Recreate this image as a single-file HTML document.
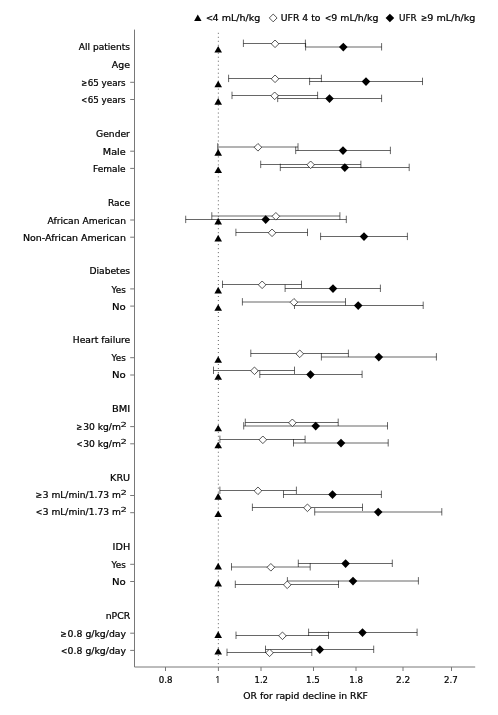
<!DOCTYPE html>
<html lang="en"><head><meta charset="utf-8"><title>OR for rapid decline in RKF</title>
<style>html,body{margin:0;padding:0;background:#fff}svg{display:block}text{font-family:"DejaVu Sans", "Liberation Sans", sans-serif;font-size:9.0px;fill:#000;stroke:#000;stroke-width:0.23px}.sup{font-size:7px;stroke-width:0.1px}.one{font-family:NanumGothic,"Liberation Sans",sans-serif;font-size:9.6px;stroke-width:0.15px}.eb{stroke:#000;stroke-width:0.6;fill:none}.ax{stroke:#787878;stroke-width:1;fill:none}.od{fill:#fff;stroke:#1c1c1c;stroke-width:0.75}.fd{fill:#000}.tr{fill:#000}</style></head><body>
<svg width="498" height="715" viewBox="0 0 498 715">
<rect width="498" height="715" fill="#fff"/>
<path class="ax" d="M134.5 29.6V667.0H475.2"/>
<path class="ax" d="M165.5 667.0v4"/>
<text y="682.7"><tspan id="x0_8" x="158.69" textLength="13.74" lengthAdjust="spacingAndGlyphs">0.8</tspan></text>
<path class="ax" d="M218.4 667.0v4"/>
<text class="one" x="217.7" y="682.8" text-anchor="middle">1</text>
<path class="ax" d="M261.0 667.0v4"/>
<text y="682.7"><tspan id="x1_2" x="254.53" textLength="13.48" lengthAdjust="spacingAndGlyphs">1.2</tspan></text>
<path class="ax" d="M313.5 667.0v4"/>
<text y="682.7"><tspan id="x1_5" x="306.04" textLength="13.77" lengthAdjust="spacingAndGlyphs">1.5</tspan></text>
<path class="ax" d="M356.0 667.0v4"/>
<text y="682.7"><tspan id="x1_8" x="349.37" textLength="13.77" lengthAdjust="spacingAndGlyphs">1.8</tspan></text>
<path class="ax" d="M403.0 667.0v4"/>
<text y="682.7"><tspan id="x2_2" x="396.02" textLength="14.30" lengthAdjust="spacingAndGlyphs">2.2</tspan></text>
<path class="ax" d="M451.5 667.0v4"/>
<text y="682.7"><tspan id="x2_7" x="444.12" textLength="13.79" lengthAdjust="spacingAndGlyphs">2.7</tspan></text>
<text y="699.3"><tspan id="ttl" x="243.30" textLength="124.63" lengthAdjust="spacingAndGlyphs">OR for rapid decline in RKF</tspan></text>
<path d="M218.35 32.85V667.0" stroke="#303030" stroke-width="0.95" stroke-dasharray="0.8 3.19" fill="none"/>
<text y="49.7"><tspan id="L1" x="78.80" textLength="51.13" lengthAdjust="spacingAndGlyphs">All patients</tspan></text>
<text y="67.9"><tspan id="L2" x="111.80" textLength="18.12" lengthAdjust="spacingAndGlyphs">Age</tspan></text>
<path class="ax" d="M130.2 82.3H134.5"/>
<text y="86.0"><tspan id="S3" x="81.35" textLength="5.98" lengthAdjust="spacingAndGlyphs">≥</tspan><tspan id="L3" x="87.66" textLength="38.00" lengthAdjust="spacingAndGlyphs">65 years</tspan></text>
<path class="ax" d="M130.2 99.5H134.5"/>
<text y="103.0"><tspan id="S4" x="81.27" textLength="5.90" lengthAdjust="spacingAndGlyphs">&lt;</tspan><tspan id="L4" x="87.66" textLength="38.00" lengthAdjust="spacingAndGlyphs">65 years</tspan></text>
<text y="136.9"><tspan id="L6" x="96.07" textLength="33.81" lengthAdjust="spacingAndGlyphs">Gender</tspan></text>
<path class="ax" d="M130.2 151.2H134.5"/>
<text y="155.0"><tspan id="L7" x="102.85" textLength="22.86" lengthAdjust="spacingAndGlyphs">Male</tspan></text>
<path class="ax" d="M130.2 168.4H134.5"/>
<text y="172.0"><tspan id="L8" x="93.04" textLength="32.57" lengthAdjust="spacingAndGlyphs">Female</tspan></text>
<text y="206.0"><tspan id="L10" x="108.00" textLength="22.15" lengthAdjust="spacingAndGlyphs">Race</tspan></text>
<path class="ax" d="M130.2 220.0H134.5"/>
<text y="224.0"><tspan id="L11" x="47.61" textLength="78.41" lengthAdjust="spacingAndGlyphs">African American</tspan></text>
<path class="ax" d="M130.2 237.2H134.5"/>
<text y="241.0"><tspan id="L12" x="22.99" textLength="102.92" lengthAdjust="spacingAndGlyphs">Non-African American</tspan></text>
<text y="273.8"><tspan id="L14" x="89.43" textLength="40.70" lengthAdjust="spacingAndGlyphs">Diabetes</tspan></text>
<path class="ax" d="M130.2 288.9H134.5"/>
<text y="293.0"><tspan id="L15" x="111.59" textLength="14.22" lengthAdjust="spacingAndGlyphs">Yes</tspan></text>
<path class="ax" d="M130.2 306.1H134.5"/>
<text y="310.0"><tspan id="L16" x="111.97" textLength="13.81" lengthAdjust="spacingAndGlyphs">No</tspan></text>
<text y="342.7"><tspan id="L18" x="72.80" textLength="57.45" lengthAdjust="spacingAndGlyphs">Heart failure</tspan></text>
<path class="ax" d="M130.2 357.7H134.5"/>
<text y="361.0"><tspan id="L19" x="111.59" textLength="14.22" lengthAdjust="spacingAndGlyphs">Yes</tspan></text>
<path class="ax" d="M130.2 375.0H134.5"/>
<text y="378.0"><tspan id="L20" x="111.97" textLength="13.81" lengthAdjust="spacingAndGlyphs">No</tspan></text>
<text y="411.7"><tspan id="L22" x="112.09" textLength="18.19" lengthAdjust="spacingAndGlyphs">BMI</tspan></text>
<path class="ax" d="M130.2 426.6H134.5"/>
<text y="430.0"><tspan id="S23" x="76.37" textLength="5.97" lengthAdjust="spacingAndGlyphs">≥</tspan><tspan id="L23" x="83.15" textLength="37.75" lengthAdjust="spacingAndGlyphs">30 kg/m</tspan><tspan id="U23" x="120.60" textLength="6.47" lengthAdjust="spacingAndGlyphs" class="sup" dy="-3.4">2</tspan></text>
<path class="ax" d="M130.2 443.8H134.5"/>
<text y="447.0"><tspan id="S24" x="76.44" textLength="6.11" lengthAdjust="spacingAndGlyphs">&lt;</tspan><tspan id="L24" x="83.15" textLength="37.75" lengthAdjust="spacingAndGlyphs">30 kg/m</tspan><tspan id="U24" x="120.60" textLength="6.47" lengthAdjust="spacingAndGlyphs" class="sup" dy="-3.4">2</tspan></text>
<text y="480.7"><tspan id="L26" x="110.09" textLength="20.02" lengthAdjust="spacingAndGlyphs">KRU</tspan></text>
<path class="ax" d="M130.2 495.5H134.5"/>
<text y="498.0"><tspan id="S27" x="35.41" textLength="6.69" lengthAdjust="spacingAndGlyphs">≥</tspan><tspan id="L27" x="42.73" textLength="78.05" lengthAdjust="spacingAndGlyphs">3 mL/min/1.73 m</tspan><tspan id="U27" x="120.60" textLength="6.47" lengthAdjust="spacingAndGlyphs" class="sup" dy="-3.4">2</tspan></text>
<path class="ax" d="M130.2 512.7H134.5"/>
<text y="515.0"><tspan id="S28" x="35.63" textLength="6.59" lengthAdjust="spacingAndGlyphs">&lt;</tspan><tspan id="L28" x="42.73" textLength="78.05" lengthAdjust="spacingAndGlyphs">3 mL/min/1.73 m</tspan><tspan id="U28" x="120.60" textLength="6.47" lengthAdjust="spacingAndGlyphs" class="sup" dy="-3.4">2</tspan></text>
<text y="549.6"><tspan id="L30" x="112.63" textLength="17.51" lengthAdjust="spacingAndGlyphs">IDH</tspan></text>
<path class="ax" d="M130.2 564.3H134.5"/>
<text y="568.0"><tspan id="L31" x="111.59" textLength="14.22" lengthAdjust="spacingAndGlyphs">Yes</tspan></text>
<path class="ax" d="M130.2 581.5H134.5"/>
<text y="585.0"><tspan id="L32" x="111.97" textLength="13.81" lengthAdjust="spacingAndGlyphs">No</tspan></text>
<text y="618.9"><tspan id="L34" x="105.67" textLength="24.48" lengthAdjust="spacingAndGlyphs">nPCR</tspan></text>
<path class="ax" d="M130.2 633.2H134.5"/>
<text y="637.0"><tspan id="S35" x="60.13" textLength="6.55" lengthAdjust="spacingAndGlyphs">≥</tspan><tspan id="L35" x="67.58" textLength="58.53" lengthAdjust="spacingAndGlyphs">0.8 g/kg/day</tspan></text>
<path class="ax" d="M130.2 650.4H134.5"/>
<text y="654.0"><tspan id="S36" x="61.01" textLength="6.32" lengthAdjust="spacingAndGlyphs">&lt;</tspan><tspan id="L36" x="67.58" textLength="58.53" lengthAdjust="spacingAndGlyphs">0.8 g/kg/day</tspan></text>
<path class="eb" d="M305.6 47.0H381.6M305.6 43.1v7.4M381.6 43.1v7.4"/>
<path class="eb" d="M309.6 81.5H422.5M309.6 77.7v7.4M422.5 77.7v7.4"/>
<path class="eb" d="M277.7 98.5H381.6M277.7 94.7v7.4M381.6 94.7v7.4"/>
<path class="eb" d="M295.7 150.5H390.4M295.7 146.7v7.4M390.4 146.7v7.4"/>
<path class="eb" d="M280.3 167.5H409.2M280.3 163.7v7.4M409.2 163.7v7.4"/>
<path class="eb" d="M185.7 219.5H346.3M185.7 215.7v7.4M346.3 215.7v7.4"/>
<path class="eb" d="M320.6 236.5H407.4M320.6 232.7v7.4M407.4 232.7v7.4"/>
<path class="eb" d="M285.1 288.5H380.4M285.1 284.6v7.4M380.4 284.6v7.4"/>
<path class="eb" d="M294.5 305.5H423.2M294.5 301.6v7.4M423.2 301.6v7.4"/>
<path class="eb" d="M321.4 357.0H436.4M321.4 353.1v7.4M436.4 353.1v7.4"/>
<path class="eb" d="M259.8 374.5H362.1M259.8 370.6v7.4M362.1 370.6v7.4"/>
<path class="eb" d="M243.7 426.0H387.5M243.7 422.1v7.4M387.5 422.1v7.4"/>
<path class="eb" d="M293.5 443.0H388.2M293.5 439.1v7.4M388.2 439.1v7.4"/>
<path class="eb" d="M283.5 494.5H381.4M283.5 490.6v7.4M381.4 490.6v7.4"/>
<path class="eb" d="M314.7 512.0H441.8M314.7 508.1v7.4M441.8 508.1v7.4"/>
<path class="eb" d="M298.3 563.5H392.3M298.3 559.6v7.4M392.3 559.6v7.4"/>
<path class="eb" d="M287.4 581.0H418.4M287.4 577.1v7.4M418.4 577.1v7.4"/>
<path class="eb" d="M308.6 632.5H417.1M308.6 628.6v7.4M417.1 628.6v7.4"/>
<path class="eb" d="M265.5 649.5H373.7M265.5 645.6v7.4M373.7 645.6v7.4"/>
<path class="eb" d="M243.4 43.5H305.4M243.4 39.6v7.4M305.4 39.6v7.4"/>
<path class="eb" d="M228.6 78.5H321.4M228.6 74.7v7.4M321.4 74.7v7.4"/>
<path class="eb" d="M232.0 95.5H317.6M232.0 91.7v7.4M317.6 91.7v7.4"/>
<path class="eb" d="M217.7 147.0H298.0M217.7 143.2v7.4M298.0 143.2v7.4"/>
<path class="eb" d="M260.7 164.5H360.9M260.7 160.7v7.4M360.9 160.7v7.4"/>
<path class="eb" d="M211.8 216.0H339.9M211.8 212.2v7.4M339.9 212.2v7.4"/>
<path class="eb" d="M235.9 232.5H307.5M235.9 228.7v7.4M307.5 228.7v7.4"/>
<path class="eb" d="M222.5 284.5H301.5M222.5 280.6v7.4M301.5 280.6v7.4"/>
<path class="eb" d="M242.4 302.0H345.5M242.4 298.1v7.4M345.5 298.1v7.4"/>
<path class="eb" d="M250.8 353.5H348.4M250.8 349.6v7.4M348.4 349.6v7.4"/>
<path class="eb" d="M213.5 370.5H294.5M213.5 366.6v7.4M294.5 366.6v7.4"/>
<path class="eb" d="M245.3 422.5H338.2M245.3 418.6v7.4M338.2 418.6v7.4"/>
<path class="eb" d="M219.9 439.5H305.1M219.9 435.6v7.4M305.1 435.6v7.4"/>
<path class="eb" d="M219.9 490.5H296.4M219.9 486.6v7.4M296.4 486.6v7.4"/>
<path class="eb" d="M252.4 507.5H362.5M252.4 503.6v7.4M362.5 503.6v7.4"/>
<path class="eb" d="M231.5 567.0H310.2M231.5 563.1v7.4M310.2 563.1v7.4"/>
<path class="eb" d="M235.3 584.5H338.5M235.3 580.6v7.4M338.5 580.6v7.4"/>
<path class="eb" d="M236.0 635.5H328.5M236.0 631.6v7.4M328.5 631.6v7.4"/>
<path class="eb" d="M227.0 652.5H311.8M227.0 648.6v7.4M311.8 648.6v7.4"/>
<path class="fd" d="M339.00 47.10L343.30 42.80L347.60 47.10L343.30 51.40Z"/>
<path class="fd" d="M361.70 81.60L366.00 77.30L370.30 81.60L366.00 85.90Z"/>
<path class="fd" d="M325.20 98.60L329.50 94.30L333.80 98.60L329.50 102.90Z"/>
<path class="fd" d="M338.70 150.60L343.00 146.30L347.30 150.60L343.00 154.90Z"/>
<path class="fd" d="M340.50 167.60L344.80 163.30L349.10 167.60L344.80 171.90Z"/>
<path class="fd" d="M261.40 219.60L265.70 215.30L270.00 219.60L265.70 223.90Z"/>
<path class="fd" d="M359.70 236.60L364.00 232.30L368.30 236.60L364.00 240.90Z"/>
<path class="fd" d="M328.70 288.60L333.00 284.30L337.30 288.60L333.00 292.90Z"/>
<path class="fd" d="M353.90 305.60L358.20 301.30L362.50 305.60L358.20 309.90Z"/>
<path class="fd" d="M374.50 357.10L378.80 352.80L383.10 357.10L378.80 361.40Z"/>
<path class="fd" d="M306.20 374.60L310.50 370.30L314.80 374.60L310.50 378.90Z"/>
<path class="fd" d="M311.40 426.10L315.70 421.80L320.00 426.10L315.70 430.40Z"/>
<path class="fd" d="M336.70 443.10L341.00 438.80L345.30 443.10L341.00 447.40Z"/>
<path class="fd" d="M328.20 494.60L332.50 490.30L336.80 494.60L332.50 498.90Z"/>
<path class="fd" d="M373.90 512.10L378.20 507.80L382.50 512.10L378.20 516.40Z"/>
<path class="fd" d="M341.30 563.60L345.60 559.30L349.90 563.60L345.60 567.90Z"/>
<path class="fd" d="M348.70 581.10L353.00 576.80L357.30 581.10L353.00 585.40Z"/>
<path class="fd" d="M358.20 632.60L362.50 628.30L366.80 632.60L362.50 636.90Z"/>
<path class="fd" d="M315.50 649.60L319.80 645.30L324.10 649.60L319.80 653.90Z"/>
<path class="od" d="M271.25 43.80L275.05 40.00L278.85 43.80L275.05 47.60Z"/>
<path class="od" d="M271.25 78.80L275.05 75.00L278.85 78.80L275.05 82.60Z"/>
<path class="od" d="M270.85 95.80L274.65 92.00L278.45 95.80L274.65 99.60Z"/>
<path class="od" d="M254.15 147.30L257.95 143.50L261.75 147.30L257.95 151.10Z"/>
<path class="od" d="M306.85 164.80L310.65 161.00L314.45 164.80L310.65 168.60Z"/>
<path class="od" d="M272.05 216.30L275.85 212.50L279.65 216.30L275.85 220.10Z"/>
<path class="od" d="M268.25 232.80L272.05 229.00L275.85 232.80L272.05 236.60Z"/>
<path class="od" d="M258.35 284.80L262.15 281.00L265.95 284.80L262.15 288.60Z"/>
<path class="od" d="M290.15 302.30L293.95 298.50L297.75 302.30L293.95 306.10Z"/>
<path class="od" d="M295.95 353.80L299.75 350.00L303.55 353.80L299.75 357.60Z"/>
<path class="od" d="M250.65 370.80L254.45 367.00L258.25 370.80L254.45 374.60Z"/>
<path class="od" d="M288.55 422.80L292.35 419.00L296.15 422.80L292.35 426.60Z"/>
<path class="od" d="M259.05 439.80L262.85 436.00L266.65 439.80L262.85 443.60Z"/>
<path class="od" d="M254.15 490.80L257.95 487.00L261.75 490.80L257.95 494.60Z"/>
<path class="od" d="M303.65 507.80L307.45 504.00L311.25 507.80L307.45 511.60Z"/>
<path class="od" d="M267.05 567.30L270.85 563.50L274.65 567.30L270.85 571.10Z"/>
<path class="od" d="M283.45 584.80L287.25 581.00L291.05 584.80L287.25 588.60Z"/>
<path class="od" d="M278.65 635.80L282.45 632.00L286.25 635.80L282.45 639.60Z"/>
<path class="od" d="M265.75 652.80L269.55 649.00L273.35 652.80L269.55 656.60Z"/>
<path class="tr" d="M218.2 45.9L222.0 52.5H214.4Z"/>
<path class="tr" d="M218.2 80.7L222.0 87.3H214.4Z"/>
<path class="tr" d="M218.2 98.1L222.0 104.7H214.4Z"/>
<path class="tr" d="M218.2 149.1L222.0 155.7H214.4Z"/>
<path class="tr" d="M218.2 166.4L222.0 173.0H214.4Z"/>
<path class="tr" d="M218.2 217.8L222.0 224.4H214.4Z"/>
<path class="tr" d="M218.2 234.8L222.0 241.4H214.4Z"/>
<path class="tr" d="M218.2 286.8L222.0 293.4H214.4Z"/>
<path class="tr" d="M218.2 304.2L222.0 310.8H214.4Z"/>
<path class="tr" d="M218.2 356.2L222.0 362.8H214.4Z"/>
<path class="tr" d="M218.2 373.2L222.0 379.8H214.4Z"/>
<path class="tr" d="M218.2 424.7L222.0 431.3H214.4Z"/>
<path class="tr" d="M218.2 441.7L222.0 448.3H214.4Z"/>
<path class="tr" d="M218.2 493.1L222.0 499.7H214.4Z"/>
<path class="tr" d="M218.2 510.4L222.0 517.0H214.4Z"/>
<path class="tr" d="M218.2 562.8L222.0 569.4H214.4Z"/>
<path class="tr" d="M218.2 579.8L222.0 586.4H214.4Z"/>
<path class="tr" d="M218.2 631.3L222.0 637.9H214.4Z"/>
<path class="tr" d="M218.2 648.0L222.0 654.6H214.4Z"/>
<path class="tr" d="M197.8 14.5L201.5 21H194.1Z"/>
<text y="20.8"><tspan id="g1a" x="205.99" textLength="7.02" lengthAdjust="spacingAndGlyphs">&lt;</tspan><tspan id="g1b" x="212.58" textLength="47.67" lengthAdjust="spacingAndGlyphs">4 mL/h/kg</tspan></text>
<path class="od" d="M269.30 17.95L273.20 14.05L277.10 17.95L273.20 21.85Z"/>
<text y="20.8"><tspan id="g2a" x="280.76" textLength="42.76" lengthAdjust="spacingAndGlyphs">UFR 4 to </tspan><tspan id="g2b" x="325.06" textLength="6.29" lengthAdjust="spacingAndGlyphs">&lt;</tspan><tspan id="g2c" x="331.23" textLength="47.16" lengthAdjust="spacingAndGlyphs">9 mL/h/kg</tspan></text>
<path class="fd" d="M385.60 18.00L389.90 13.70L394.20 18.00L389.90 22.30Z"/>
<text y="20.8"><tspan id="g3a" x="399.02" textLength="20.54" lengthAdjust="spacingAndGlyphs">UFR </tspan><tspan id="g3b" x="420.99" textLength="6.23" lengthAdjust="spacingAndGlyphs">≥</tspan><tspan id="g3c" x="427.33" textLength="48.01" lengthAdjust="spacingAndGlyphs">9 mL/h/kg</tspan></text>
</svg></body></html>
